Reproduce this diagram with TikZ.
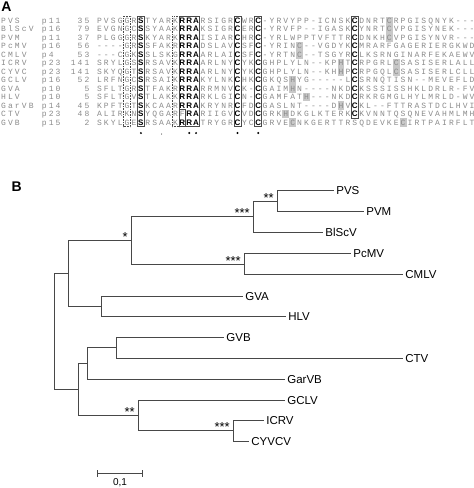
\documentclass[tikz,border=0pt]{standalone}
\usepackage{fontspec}
\setmainfont{Liberation Sans}
\newfontfamily\alnfont{Liberation Mono}
\definecolor{alngray}{HTML}{8A8A8A}
\definecolor{boxgray}{HTML}{4A4A4A}
\definecolor{cellgray}{HTML}{C8C8C8}
\definecolor{treegray}{HTML}{484848}

% one alignment row, one node per letter; lower case = conserved (bold)
\newcount\alncol
\newif\ifalnseq
\def\alnchars#1{\ifx#1\relax\else\alnput{#1}\advance\alncol by 1 \expandafter\alnchars\fi}
\def\alnput#1{%
  \def\alnsty{seqchar}\def\alntxt{#1}%
  \ifalnseq\ifnum`#1>`Z \def\alnsty{conschar}\uppercase{\def\alntxt{#1}}\fi\fi
  \expandafter\alnnode\expandafter{\alnsty}{\alntxt}}
\def\alnnode#1#2{\node[#1] (\alnpre\alnrowidx-\the\alncol) at ({\alnx+\the\alncol*6.9},{ry(\alnrowidx)+2.7}) {#2};}
\newcommand\alnrow[4]{\def\alnpre{#1}\def\alnrowidx{#2}\def\alnx{#3}\alncol=0 \expandafter\alnchars#4\relax}

\begin{document}
\begin{tikzpicture}[x=1pt, y=-1pt, line join=miter,
  declare function={cx(\c)=99.5+(\c-1)*6.9; ry(\r)=20.7+(\r-1)*8.47;},
  seqchar/.style={font=\alnfont\fontsize{8}{8}\selectfont, text=alngray, inner sep=0pt, anchor=base},
  conschar/.style={font=\bfseries\fontsize{8}{8}\selectfont, inner sep=0pt, anchor=base},
  hlcell/.style={fill=cellgray},
  consbox/.style={draw=boxgray, line width=0.6pt},
  dotbox/.style={draw=boxgray, line width=0.6pt, densely dotted},
  branchline/.style={draw=treegray, line width=1.4pt, line cap=rect},
  leaf/.style={font=\fontsize{11.5}{11.5}\selectfont, anchor=west, inner sep=3.2pt, text height=8.2pt, text depth=0pt},
  bootstrap/.style={font=\fontsize{13}{13}\selectfont, inner sep=0pt, anchor=base east},
  panel/.style={font=\bfseries\fontsize{14}{14}\selectfont, inner sep=0pt}]
\useasboundingbox (0,0) rectangle (474,488);

% ---------- A: alignment
\node[panel] (panelA) at (6.5,7) {A};
\foreach \r/\c in {1/43,2/43,3/43,4/30,5/30,6/36,6/44,7/36,7/44,8/29,9/29,10/31,11/36,12/28,13/29,13/45}
  \fill[hlcell] ({cx(\c)-3.45},{ry(\r)-4.2}) rectangle ({cx(\c)+3.45},{ry(\r)+4.2});
\foreach \r/\n/\p/\s/\x/\q in {
  1/PVS/p11/35/80.1/PVSGGRsTYARKrraRSIGRcWRc-YRVYPP-ICNSKcDNRTCRPGISQNYK---,
  2/BlScV/p16/79/80.1/EVGNGCsSYAAKrraKSIGRcERc-YRVFP--IGASKcYNRTCVPGISYNEK---,
  3/PVM/p11/37/80.1/PLGGGRsKYARKrraISIARcHRc-YRLWPPTVFTTRcDNKHCVPGISYNVR---,
  4/PcMV/p16/56/80.1/----GRsSFAKRrraDSLAVcSFc-YRINC--VGDYKcMRARFGAGERIERGKWD,
  5/CMLV/p4/53/80.1/---CGKsSLSKGrraARLAIcSFc-YRTNC--TSGYRcLKSRNGINARFEKAEWV,
  6/ICRV/p23/141/73.2/SRYLGSsRSAVKrraARLNYcYKcGHPLYLN--KPHTcRPGRLCSASISERLALL,
  7/CYVC/p23/141/73.2/SKYQGTsRSAVKrraARLNYcYKcGHPLYLN--KHHPcRPGQLCSASISERLCLL,
  8/GCLV/p16/52/80.1/LRFNGCsRSAIKrraKYLNKcHKcGKQSHYG-----LcSRNQTISN--MEVEFLD,
  9/GVA/p10/5/87/SFLTGRsTFAKRrraRRMNVcK-cGAIMHN----NKDcKSSSISSHKLDRLR-FV,
  10/HLV/p10/5/87/SFLTGVsTLAKKrraRKLGIcN-cGAMFATH---NKDcRKRGMGLHYLMRLD-WV,
  11/GarVB/p14/45/80.1/KPFTGTsKCAARrraKRYNRcFDcGASLNT----DHVcKL--FTTRASTDCLHVI,
  12/CTV/p23/48/80.1/ALIRKNsYQGARFraRIIGVcVDcGRKHDKGLKTERKcKVNNTQSQNEVAHMLMH,
  13/GVB/p15/2/87/SKYLGEsRSAAKrraTRYGRcYCcGRVECNKGERTTRSQDEVKECIRTPAIRFLT} {
  \alnseqfalse
  \alnrow{nm}{\r}{3.6}{\n}
  \alnrow{pr}{\r}{44.3}{\p}
  \alnrow{ps}{\r}{\x}{\s}
  \alnseqtrue
  \alnrow{sq}{\r}{99.5}{\q}
}
\foreach \c/\d/\e in {7/7/13, 13/15/13, 21/21/13, 24/24/13, 38/38/12}
  \draw[consbox] ({cx(\c)-3.45},{ry(1)-4.4}) rectangle ({cx(\d)+3.45},{ry(\e)+4.4});
\draw[consbox] ({cx(13)-3.45},{ry(12)-4.2}) rectangle ({cx(13)+3.45},{ry(13)+4.4});
\foreach \c in {5,12}
  \draw[dotbox] ({cx(\c)-3.45},{ry(1)-4.4}) rectangle ({cx(\c)+3.45},{ry(13)+4.4});
\foreach \c in {7,14,15,21,24} \fill ({cx(\c)},133) circle (1.1);
\fill ({cx(10)},134) circle (0.5);

% ---------- B: tree
\node[panel] (panelB) at (16.7,186.7) {B};
\foreach \n/\x/\y in {PVS/333/190.5, PVM/363/211.5, BlScV/322/232.5, PcMV/350/253.5, CMLV/402/274.5,
  GVA/242/296.5, HLV/285/316.5, GVB/223/337.5, CTV/402/358.5, GarVB/284/379.5,
  GCLV/284/400.5, ICRV/263/420.5, CYVCV/248/441.5}
  \node[leaf] (\n) at (\x,\y) {\n};
\coordinate (n1) at (277.5,201.5);
\coordinate (n2) at (253.5,216.5);
\coordinate (n3) at (244.5,264.5);
\coordinate (n4) at (131.5,240.5);
\coordinate (n5) at (101.5,306.5);
\coordinate (n6) at (68.5,273.5);
\coordinate (n7) at (116.5,347.5);
\coordinate (n8) at (87.5,363.5);
\coordinate (n9) at (233.5,430.5);
\coordinate (n10) at (138.5,415.5);
\coordinate (n11) at (78.5,389.5);
\coordinate (root) at (54.5,331.5);
\foreach \a/\b in {n1/PVS.west, n1/PVM.west, n2/n1, n2/BlScV.west, n3/PcMV.west, n3/CMLV.west,
  n4/n2, n4/n3, n5/GVA.west, n5/HLV.west, n6/n4, n6/n5, n7/GVB.west, n7/CTV.west,
  n8/n7, n8/GarVB.west, n9/ICRV.west, n9/CYVCV.west, n10/GCLV.west, n10/n9,
  n11/n8, n11/n10, root/n6, root/n11}
  \draw[branchline] (\a) |- (\b);
\foreach \a/\s in {n1/**, n2/***, n3/***, n4/*, n9/***, n10/**}
  \node[bootstrap] (bs-\a) at ([shift={(-3.5,1.2)}]\a) {\s};

% scale bar
\coordinate (sbL) at (97.5,473.5);
\coordinate (sbR) at (142.5,473.5);
\draw[branchline, line width=1.2pt, line cap=butt] (sbL) -- (sbR)
  ([yshift=3.5pt]sbL) -- ([yshift=-3.5pt]sbL) ([yshift=3.5pt]sbR) -- ([yshift=-3.5pt]sbR);
\node[font=\fontsize{10}{10}\selectfont, inner sep=0pt] (sblab) at (120,483) {0,1};
\end{tikzpicture}
\end{document}
